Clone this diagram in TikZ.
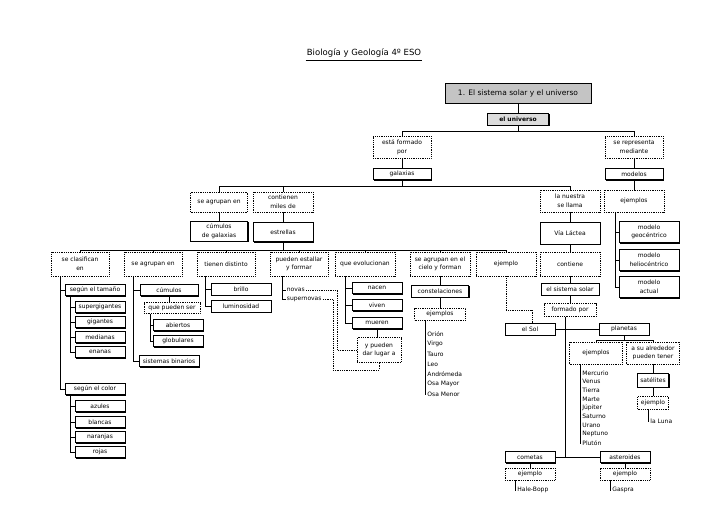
\documentclass[tikz,border=0pt]{standalone}
\usepackage{fontspec}
\setmainfont{DejaVu Sans}
\usetikzlibrary{shadows}
\definecolor{MapaGris}{HTML}{C4C4C4}
\definecolor{MapaClaro}{HTML}{DCDCDC}

\begin{document}
\begin{tikzpicture}[x=1pt,y=-1pt,line width=.8pt,
  every node/.style={font=\fontsize{6}{8.5}\selectfont,inner sep=1pt,align=center},
  concepto/.style={draw,fill=white,minimum width=58pt,minimum height=11pt,
    drop shadow={shadow xshift=1.3pt,shadow yshift=-1.3pt,fill=black,opacity=1}},
  enlace/.style={draw,densely dotted,minimum width=58pt,minimum height=22pt},
  elem/.style={anchor=west}]
\useasboundingbox (0,0) rectangle (728,515);

% cabecera
\node[font=\fontsize{8.5}{10}\selectfont,inner ysep=3pt] (titulo) at (364,53) {Biología y Geología 4º ESO};
\draw (titulo.south west) -- (titulo.south east);
\node[concepto,fill=MapaGris,minimum width=146pt,minimum height=20pt,font=\fontsize{7.5}{8}\selectfont] (tema) at (518,93) {1. El sistema solar y el universo};
\node[concepto,fill=MapaClaro,minimum width=61pt,minimum height=12pt,font=\fontsize{6}{8}\selectfont\bfseries] (universo) at (518,119) {el universo};

% primer nivel
\node[enlace] (formado) at (402,147) {está formado\\por};
\node[enlace] (representa) at (634,147) {se representa\\mediante};
\node[concepto] (galaxias) at (402,174) {galaxias};
\node[concepto] (modelos) at (634,174) {modelos};

\node[enlace,minimum width=57pt,minimum height=20pt] (agrupanG) at (219,202) {se agrupan en};
\node[enlace,minimum width=60pt,minimum height=20pt] (contienen) at (283,202) {contienen\\miles de};
\node[enlace,minimum width=60pt] (nuestra) at (570,201) {la nuestra\\se llama};
\node[enlace,minimum width=60pt] (ejModelos) at (634,201) {ejemplos};
\node[concepto,minimum width=57pt,minimum height=20pt] (cumGal) at (219,231) {cúmulos\\de galaxias};
\node[concepto,minimum width=60pt,minimum height=19pt] (estrellas) at (283,232) {estrellas};
\node[concepto,minimum width=60pt,minimum height=22pt] (lactea) at (570,233) {Vía Láctea};
\node[concepto,minimum width=60pt,minimum height=21pt] (geo) at (649,232) {modelo\\geocéntrico};
\node[concepto,minimum width=60pt,minimum height=21pt] (helio) at (649,260) {modelo\\heliocéntrico};
\node[concepto,minimum width=60pt,minimum height=21pt] (actual) at (649,287) {modelo\\actual};

% estrellas
\node[enlace,minimum height=24pt] (clasifican) at (80,264) {se clasifican\\en};
\node[enlace,minimum height=24pt] (agrupanE) at (153,264) {se agrupan en};
\node[enlace,minimum height=24pt] (distinto) at (226,264) {tienen distinto};
\node[enlace,minimum height=24pt] (estallar) at (299,264) {pueden estallar\\y formar};
\node[enlace,minimum height=24pt,minimum width=60pt] (evolucionan) at (365,264) {que evolucionan};
\node[enlace,minimum height=24pt,minimum width=60pt] (cielo) at (440,264) {se agrupan en el\\cielo y forman};
\node[enlace,minimum height=24pt,minimum width=60pt] (ejemploSol) at (506,264) {ejemplo};
\node[enlace,minimum height=24pt,minimum width=60pt] (contiene) at (570,264) {contiene};

\node[concepto,minimum width=60pt] (tamano) at (95,290) {según el tamaño};
\node[concepto,minimum width=50pt] (supergig) at (100,307) {supergigantes};
\node[concepto,minimum width=50pt] (gigantes) at (100,322) {gigantes};
\node[concepto,minimum width=50pt] (medianas) at (100,337) {medianas};
\node[concepto,minimum width=50pt] (enanas) at (100,352) {enanas};
\node[concepto,minimum width=60pt] (color) at (95,389) {según el color};
\node[concepto,minimum width=50pt] (azules) at (100,406) {azules};
\node[concepto,minimum width=50pt] (blancas) at (100,422) {blancas};
\node[concepto,minimum width=50pt] (naranjas) at (100,437) {naranjas};
\node[concepto,minimum width=50pt] (rojas) at (100,452) {rojas};

\node[concepto] (cumulos) at (169,290) {cúmulos};
\node[enlace,minimum width=56pt,minimum height=11pt] (pueden) at (172,308) {que pueden ser};
\node[concepto,minimum width=50pt] (abiertos) at (178,325) {abiertos};
\node[concepto,minimum width=50pt] (globulares) at (178,341) {globulares};
\node[concepto,minimum width=60pt] (binarios) at (169,361) {sistemas binarios};

\node[concepto,minimum width=60pt,minimum height=12pt] (brillo) at (241,289) {brillo};
\node[concepto,minimum width=60pt,minimum height=12pt] (luminosidad) at (241,306) {luminosidad};

\node[elem] (novas) at (285.5,290) {novas};
\node[elem] (supernovas) at (285.5,299) {supernovas};

\node[concepto,minimum width=50pt] (nacen) at (377,288) {nacen};
\node[concepto,minimum width=50pt] (viven) at (377,305) {viven};
\node[concepto,minimum width=50pt] (mueren) at (377,323) {mueren};
\node[enlace,minimum width=44pt,minimum height=25pt] (lugar) at (379,350) {y pueden\\dar lugar a};

\node[concepto,minimum width=57pt,minimum height=12pt] (constelaciones) at (440,291) {constelaciones};
\node[enlace,minimum width=51pt,minimum height=12pt] (ejConst) at (440,314) {ejemplos};
\foreach \nom [count=\i] in {Orión,Virgo,Tauro,Leo,Andrómeda,Osa Mayor,Osa Menor}
  \node[elem] (c\i) at (426,{324+10*\i}) {\nom};

% sistema solar
\node[concepto,minimum height=12pt] (solar) at (570,289) {el sistema solar};
\node[enlace,minimum width=52pt,minimum height=13pt] (formadoPor) at (570,310) {formado por};
\node[concepto,minimum width=50pt,minimum height=12pt] (sol) at (530,329) {el Sol};
\node[concepto,minimum width=50pt,minimum height=12pt] (planetas) at (624,329) {planetas};
\node[enlace,minimum width=53pt] (ejPlan) at (596,353) {ejemplos};
\node[enlace,minimum width=53pt] (alrededor) at (653,353) {a su alrededor\\pueden tener};
\foreach \nom [count=\i] in {Mercurio,Venus,Tierra,Marte,Júpiter,Saturno,Urano,Neptuno,Plutón}
  \node[elem] (p\i) at (581,{364.25+8.75*\i}) {\nom};
\node[concepto,minimum width=31pt,minimum height=14pt] (satelites) at (653,380) {satélites};
\node[enlace,minimum width=31pt,minimum height=13pt] (ejSat) at (653,403) {ejemplo};
\node[elem] (luna) at (649,421) {la Luna};
\node[concepto,minimum width=50pt] (cometas) at (530,457) {cometas};
\node[concepto,minimum width=50pt] (asteroides) at (625,457) {asteroides};
\node[enlace,minimum width=50pt,minimum height=12pt] (ejCom) at (530,474) {ejemplo};
\node[enlace,minimum width=50pt,minimum height=12pt] (ejAst) at (625,474) {ejemplo};
\node[elem] (halebopp) at (516,490) {Hale-Bopp};
\node[elem] (gaspra) at (611,490) {Gaspra};

% conexiones
\draw (tema) -- (universo);
\draw (universo.south) -- ++(0,6) coordinate (b1);
\draw (formado.north) |- (b1) -| (representa.north);
\draw (formado) -- (galaxias);
\draw (representa) -- (modelos);
\draw (modelos) -- (ejModelos);
\draw (galaxias.south) -- ++(0,6.5) coordinate (b2);
\draw (agrupanG.north) |- (b2) -| (nuestra.north);
\draw (contienen.north) -- (contienen.north |- b2);
\draw (agrupanG) -- (cumGal);
\draw (contienen) -- (estrellas);
\draw (nuestra) -- (lactea);
\draw (lactea) -- (contiene);
\draw (contiene) -- (solar);
\draw (solar) -- (formadoPor);

\coordinate (k13) at ([xshift=-19pt]ejModelos.south);
\draw (k13) |- (actual.west);
\foreach \n in {geo,helio} \draw (k13 |- \n.west) -- (\n.west);

\draw (estrellas.south) -- ++(0,8) coordinate (b3);
\draw (clasifican.north) |- (b3) -| (ejemploSol.north);
\foreach \n in {agrupanE,distinto,estallar,evolucionan,cielo}
  \draw (\n.north) -- (\n.north |- b3);

\coordinate (k1) at ([xshift=-20pt]clasifican.south);
\draw (k1) |- (color.west);
\draw (k1 |- tamano.west) -- (tamano.west);
\coordinate (k2) at ([xshift=-25pt]tamano.south);
\draw (k2) |- (enanas.west);
\foreach \n in {supergig,gigantes,medianas} \draw (k2 |- \n.west) -- (\n.west);
\coordinate (k3) at ([xshift=-25pt]color.south);
\draw (k3) |- (rojas.west);
\foreach \n in {azules,blancas,naranjas} \draw (k3 |- \n.west) -- (\n.west);

\coordinate (k4) at ([xshift=-20pt]agrupanE.south);
\draw (k4) |- (binarios.west);
\draw (k4 |- cumulos.west) -- (cumulos.west);
\draw (cumulos.south) -- (cumulos.south |- pueden.north);
\coordinate (k5) at ([xshift=-22pt]pueden.south);
\draw (k5) |- (globulares.west);
\draw (k5 |- abiertos.west) -- (abiertos.west);

\coordinate (k6) at ([xshift=-21pt]distinto.south);
\draw (k6) |- (luminosidad.west);
\draw (k6 |- brillo.west) -- (brillo.west);

\coordinate (k7) at ([xshift=-17pt]estallar.south);
\draw (k7) |- (supernovas.west);
\draw (k7 |- novas.west) -- (novas.west);
\draw[densely dotted] (novas.east) -| ([xshift=-19pt]lugar.west) -- (lugar.west);
\draw[densely dotted] (supernovas.east) -| ([xshift=-46pt,yshift=-7pt]lugar.south) -| (lugar.south);

\coordinate (k8) at ([xshift=-20pt]evolucionan.south);
\draw (k8) |- (mueren.west);
\foreach \n in {nacen,viven} \draw (k8 |- \n.west) -- (\n.west);
\draw (mueren.south) -- (mueren.south |- lugar.north);

\draw (cielo) -- (constelaciones);
\draw (constelaciones) -- (ejConst);
\coordinate (k9) at ([xshift=-15pt]ejConst.south);
\draw (k9) |- (c7.west);
\foreach \i in {1,...,6} \draw (k9 |- c\i.west) -- (c\i.west);

\draw[densely dotted] (ejemploSol.south) -- ++(0,34) -| ([xshift=2pt]sol.north);

\coordinate (k10) at ([xshift=-5pt]formadoPor.south);
\draw (k10) -- (k10 |- cometas.east);
\draw (sol) -- (planetas);
\draw (cometas) -- (asteroides);
\draw (planetas.south) -- ++(0,5) coordinate (b4);
\draw (ejPlan.north) |- (b4) -| (alrededor.north);
\coordinate (k11) at ([xshift=-16pt]ejPlan.south);
\draw (k11) |- (p9.west);
\foreach \i in {1,...,8} \draw (k11 |- p\i.west) -- (p\i.west);
\draw (alrededor) -- (satelites);
\draw (satelites) -- (ejSat);
\draw ([xshift=-5pt]ejSat.south) |- (luna.west);
\draw (cometas) -- (ejCom);
\draw (asteroides) -- (ejAst);
\draw ([xshift=-15pt]ejCom.south) |- (halebopp.west);
\draw ([xshift=-15pt]ejAst.south) |- (gaspra.west);
\end{tikzpicture}
\end{document}
